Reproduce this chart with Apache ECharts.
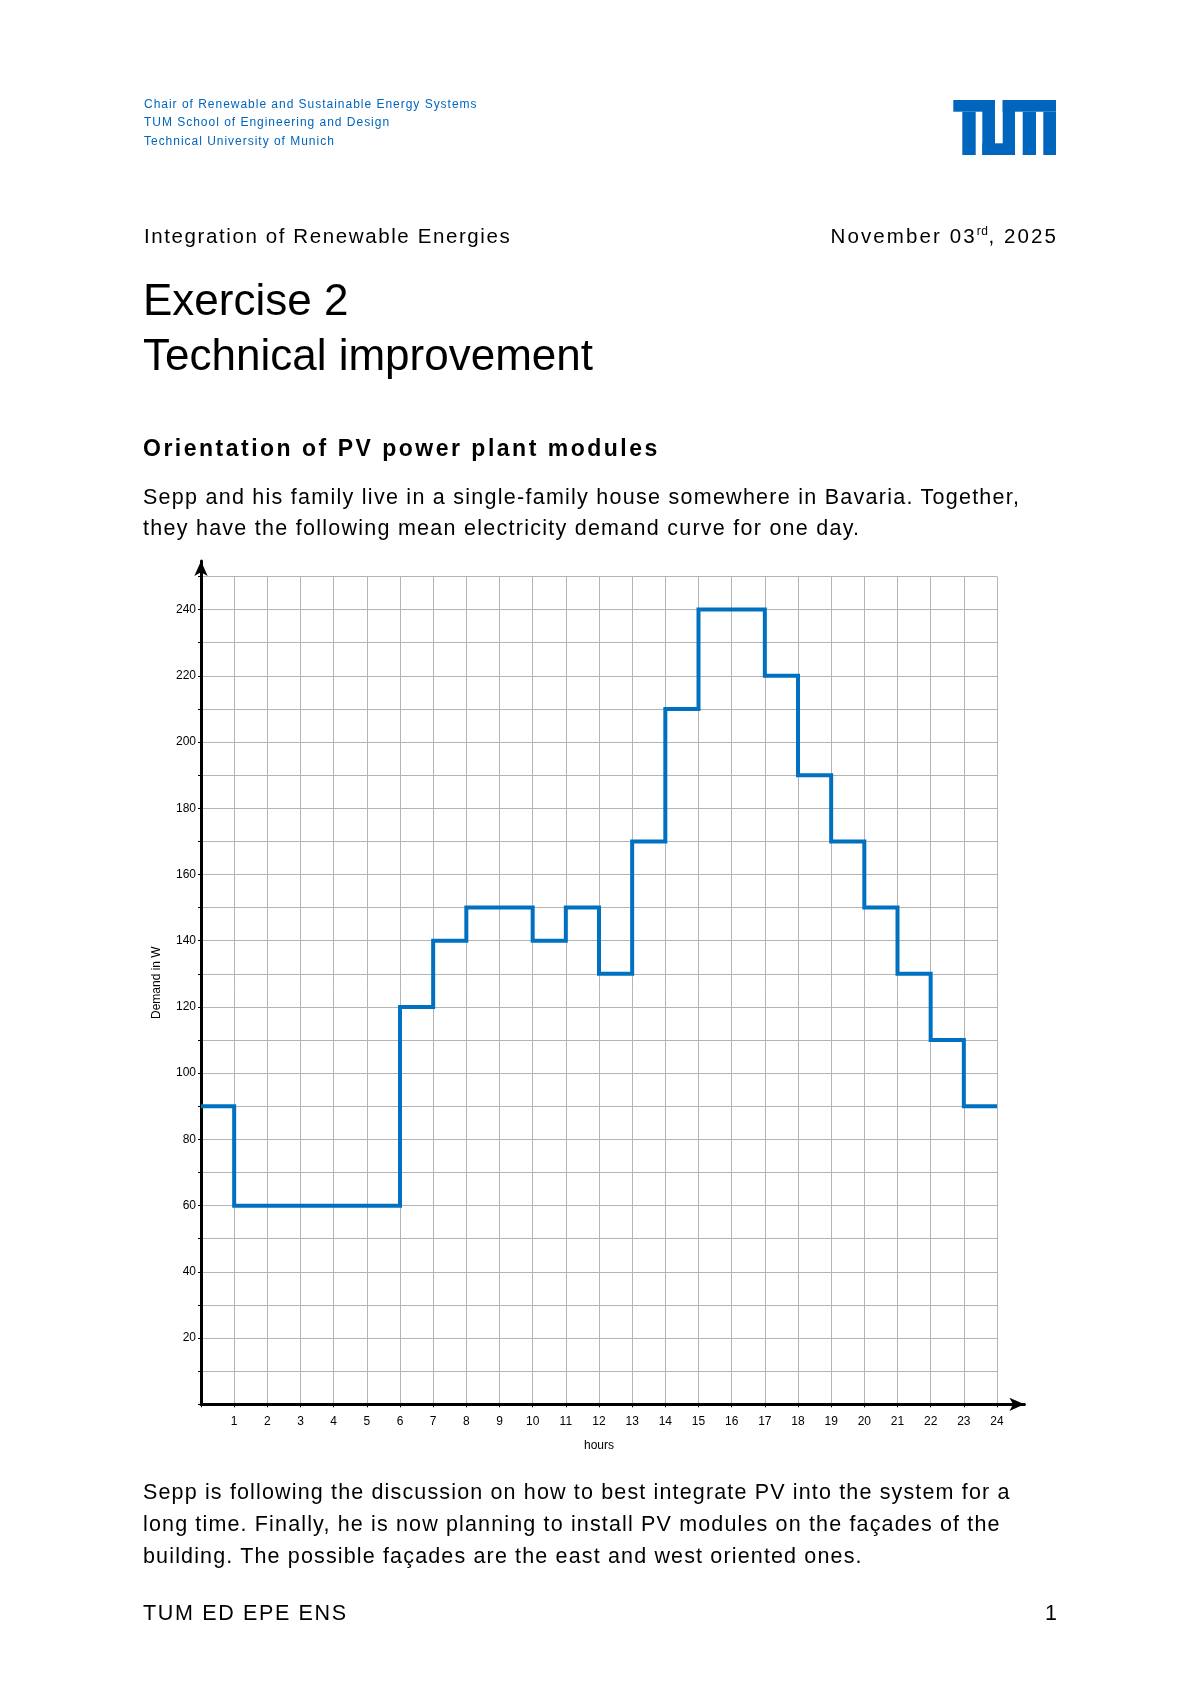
<!DOCTYPE html>
<html>
<head>
<meta charset="utf-8">
<script src="https://cdn.jsdelivr.net/npm/echarts@6/dist/echarts.min.js"></script>
<style>
html,body{margin:0;padding:0;background:#fff;}
#page{position:relative;width:1200px;height:1696px;overflow:hidden;font-family:"Liberation Sans",Arial,sans-serif;color:#000;background:#fff;}
#chart{position:absolute;left:0;top:0;width:1200px;height:1696px;z-index:0;}
.t{position:absolute;white-space:nowrap;z-index:2;}
.hdr{left:144px;top:95px;font-size:12px;line-height:18.35px;letter-spacing:0.98px;color:#0065bd;}
.course{left:144px;top:226px;font-size:20.5px;line-height:20.5px;letter-spacing:1.6px;}
.date{right:142px;top:226px;font-size:20.5px;line-height:20.5px;letter-spacing:2.1px;}
.date sup{font-size:12px;line-height:0;vertical-align:8px;letter-spacing:0.5px;}
.title{left:143px;top:272px;font-size:44px;line-height:55.3px;}
.h2{left:143px;top:437px;font-size:23px;line-height:23px;font-weight:bold;letter-spacing:2.5px;}
.p1{left:143px;top:482px;font-size:21.5px;line-height:30.5px;letter-spacing:1.26px;}
.p2{left:143px;top:1476px;font-size:21.5px;line-height:32px;letter-spacing:1.15px;}
.foot{left:143px;top:1602.5px;font-size:21.5px;line-height:21.5px;letter-spacing:1.65px;}
.pnum{right:143px;top:1602.5px;font-size:21.5px;line-height:21.5px;}
#logo{position:absolute;left:0;top:0;z-index:2;}
</style>
</head>
<body>
<div id="page">
  <div id="chart"></div>
  <div class="t hdr">Chair of Renewable and Sustainable Energy Systems<br>TUM School of Engineering and Design<br>Technical University of Munich</div>
  <svg id="logo" width="1200" height="200" viewBox="0 0 1200 200">
    <g fill="#0065bd">
      <rect x="953.3" y="100" width="41.7" height="11.7"/>
      <rect x="962.3" y="111.7" width="13.4" height="43.3"/>
      <rect x="982.3" y="100" width="12.7" height="55"/>
      <rect x="982.3" y="143.3" width="32.7" height="11.7"/>
      <rect x="1002.7" y="100" width="12.3" height="55"/>
      <rect x="1002.7" y="100" width="53.3" height="11.7"/>
      <rect x="1022.7" y="111.7" width="13.3" height="43.3"/>
      <rect x="1043.3" y="111.7" width="12.7" height="43.3"/>
    </g>
  </svg>
  <div class="t course">Integration of Renewable Energies</div>
  <div class="t date">November 03<sup>rd</sup>, 2025</div>
  <div class="t title">Exercise 2<br>Technical improvement</div>
  <div class="t h2">Orientation of PV power plant modules</div>
  <div class="t p1">Sepp and his family live in a single-family house somewhere in Bavaria. Together,<br>they have the following mean electricity demand curve for one day.</div>
  <div class="t p2">Sepp is following the discussion on how to best integrate PV into the system for a<br>long time. Finally, he is now planning to install PV modules on the façades of the<br>building. The possible façades are the east and west oriented ones.</div>
  <div class="t foot">TUM ED EPE ENS</div>
  <div class="t pnum">1</div>
</div>
<script>
// ---- data ----
const hourStarts = [0, 1, 2, 3, 4, 5, 6, 7, 8, 9, 10, 11, 12, 13, 14, 15, 16, 17, 18, 19, 20, 21, 22, 23];
const demandW = [90, 60, 60, 60, 60, 60, 120, 140, 150, 150, 140, 150, 130, 170, 210, 240, 240, 220, 190, 170, 150, 130, 110, 90];
const dayEnd = 24;
const xTickLabels = ['1','2','3','4','5','6','7','8','9','10','11','12','13','14','15','16','17','18','19','20','21','22','23','24'];
const yTickLabels = ['20','40','60','80','100','120','140','160','180','200','220','240'];
const xAxisName = 'hours';
const yAxisName = 'Demand in W';

// step line: each hour's value held until the next hour, last one held to the end of day
const stepData = hourStarts.map((h, i) => [h, demandW[i]]);
stepData.push([dayEnd, demandW[demandW.length - 1]]);

const FONT = '"Liberation Sans", Arial, sans-serif';
const chart = echarts.init(document.getElementById('chart'), null, {renderer: 'canvas'});
chart.setOption({
  animation: false,
  backgroundColor: '#ffffff',
  grid: [
    {left: 201, top: 576.5, width: 796, height: 827.8},
    {left: 201, top: 561, width: 823.4, height: 843.3}
  ],
  xAxis: [
    {
      gridIndex: 0, type: 'value', min: 0, max: 24, interval: 1,
      axisLine: {show: false},
      axisTick: {show: true, length: 3, lineStyle: {color: '#000', width: 1}},
      axisLabel: {
        color: '#000', fontSize: 12, fontFamily: FONT, margin: 11,
        formatter: v => (xTickLabels.indexOf(String(v)) >= 0 ? String(v) : '')
      },
      splitLine: {show: true, lineStyle: {color: '#b4b4b4', width: 1}},
      name: xAxisName, nameLocation: 'middle', nameGap: 35,
      nameTextStyle: {color: '#000', fontSize: 12, fontFamily: FONT}
    },
    {
      gridIndex: 1, type: 'value', min: 0, max: 24.826,
      axisLine: {show: true, onZero: false, symbol: ['none', 'arrow'], symbolSize: [10, 15],
        lineStyle: {color: '#000', width: 3}},
      axisTick: {show: false}, axisLabel: {show: false}, splitLine: {show: false}
    }
  ],
  yAxis: [
    {
      gridIndex: 0, type: 'value', min: 0, max: 250, interval: 10,
      axisLine: {show: false},
      axisTick: {show: true, length: 3, lineStyle: {color: '#000', width: 1}},
      axisLabel: {
        color: '#000', fontSize: 12, fontFamily: FONT, margin: 5,
        formatter: v => (yTickLabels.indexOf(String(v)) >= 0 ? String(v) : '')
      },
      splitLine: {show: true, lineStyle: {color: '#b4b4b4', width: 1}}
    },
    {
      gridIndex: 1, type: 'value', min: 0, max: 254.68,
      axisLine: {show: true, onZero: false, symbol: ['none', 'arrow'], symbolSize: [10, 15],
        lineStyle: {color: '#000', width: 3}},
      axisTick: {show: false}, axisLabel: {show: false}, splitLine: {show: false},
      name: yAxisName, nameLocation: 'middle', nameGap: 38,
      nameTextStyle: {color: '#000', fontSize: 12, fontFamily: FONT}
    }
  ],
  series: [{
    type: 'line', xAxisIndex: 0, yAxisIndex: 0, step: 'end',
    data: stepData, showSymbol: false, symbol: 'none', silent: true,
    lineStyle: {color: '#0070c0', width: 4, join: 'miter', cap: 'butt'},
    z: 3
  }]
});
</script>
</body>
</html>
